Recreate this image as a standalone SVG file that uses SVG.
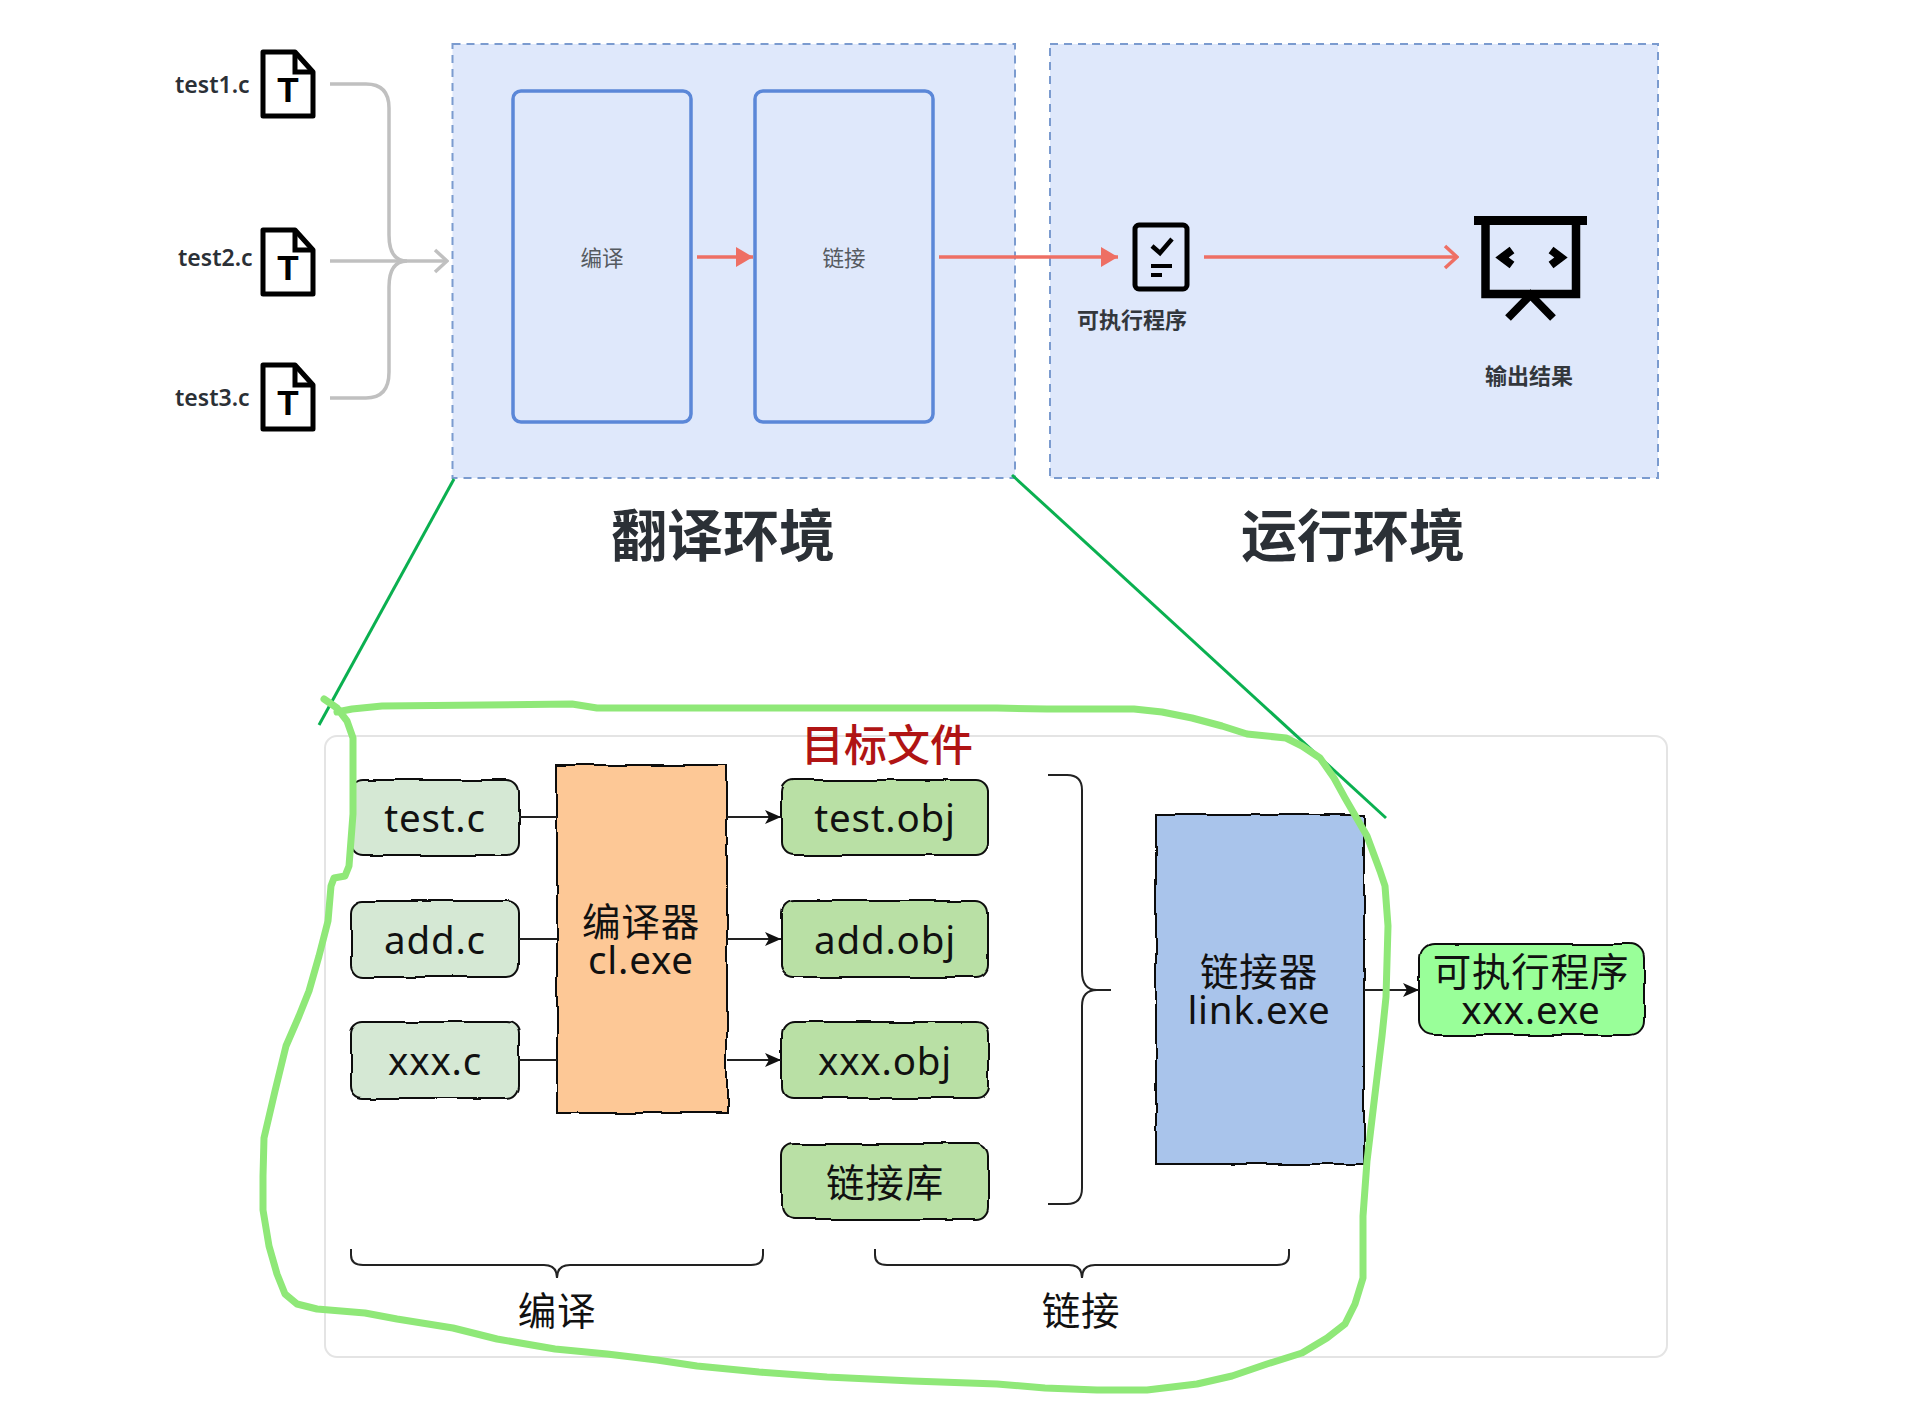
<svg xmlns="http://www.w3.org/2000/svg" width="1910" height="1412" viewBox="0 0 1910 1412">
<style>
text{font-family:"Noto Sans","Noto Sans CJK SC",sans-serif;text-anchor:middle}
.env{fill:#dfe8fb;stroke:#7b9bcf;stroke-width:2;stroke-dasharray:8 6}
.inner{fill:none;stroke:#5b87d8;stroke-width:3.5}
.file{fill:#fff;stroke:#000;stroke-width:5;stroke-linejoin:round}
.fl{font-size:23px;font-weight:600;fill:#2b3036;text-anchor:start}
.small{font-size:21.5px;fill:#555a60}
.bold22{font-size:22px;font-weight:700;fill:#33373c}
.title{font-size:56px;font-weight:700;fill:#2b3036}
.big{font-size:38.5px;fill:#111;letter-spacing:.8px}
.sk{stroke:#111;stroke-width:2;filter:url(#rough)}
.gray{fill:none;stroke:#c0c0c0;stroke-width:3.5}
.red{fill:none;stroke:#ee6f64;stroke-width:3.5}
.blk{fill:none;stroke:#222;stroke-width:2}
.icon{fill:none;stroke:#000}
.t{font-size:35px;font-weight:700;font-family:"Liberation Sans",sans-serif}
</style>
<defs>
<filter id="rough" x="-5%" y="-5%" width="110%" height="110%">
<feTurbulence type="fractalNoise" baseFrequency="0.025" numOctaves="2" seed="4"/>
<feDisplacementMap in="SourceGraphic" scale="5" xChannelSelector="R" yChannelSelector="G"/>
</filter>
<marker id="redTri" markerUnits="userSpaceOnUse" markerWidth="18" markerHeight="20" refX="17" refY="10" orient="auto"><path d="M0 0L17 10L0 20Z" fill="#ee6f64"/></marker>
<marker id="redOpen" markerUnits="userSpaceOnUse" markerWidth="16" markerHeight="26" refX="14" refY="13" orient="auto"><path d="M2 2L14 13L2 24" fill="none" stroke="#ee6f64" stroke-width="3.5"/></marker>
<marker id="grayOpen" markerUnits="userSpaceOnUse" markerWidth="16" markerHeight="26" refX="14" refY="13" orient="auto"><path d="M2 2L14 13L2 24" fill="none" stroke="#c0c0c0" stroke-width="3.5"/></marker>
<marker id="blk" markerUnits="userSpaceOnUse" markerWidth="18" markerHeight="16" refX="16" refY="8" orient="auto"><path d="M0 1L16 8L0 15L4 8Z" fill="#111"/></marker>
<path id="fileShape" d="M2 0H34L52 20V64H2Z"/>
</defs>
<rect width="1910" height="1412" fill="#fff"/>

<g id="env-translate"><rect class="env" x="452.5" y="44" width="562.5" height="434"/><text class="title" x="723" y="556">翻译环境</text></g>
<g id="env-run"><rect class="env" x="1050" y="44" width="608" height="434"/><text class="title" x="1353" y="556">运行环境</text></g>

<g id="file1"><use href="#fileShape" class="file" x="261" y="52"/><path d="M295 53V72H312" fill="none" stroke="#000" stroke-width="5"/><text class="t" x="288" y="102">T</text><text class="fl" x="175" y="93">test1.c</text></g>
<g id="file2"><use href="#fileShape" class="file" x="261" y="230"/><path d="M295 231V250H312" fill="none" stroke="#000" stroke-width="5"/><text class="t" x="288" y="280">T</text><text class="fl" x="178" y="266">test2.c</text></g>
<g id="file3"><use href="#fileShape" class="file" x="261" y="365"/><path d="M295 366V385H312" fill="none" stroke="#000" stroke-width="5"/><text class="t" x="288" y="415">T</text><text class="fl" x="175" y="406">test3.c</text></g>

<g id="compile"><rect class="inner" x="513" y="91" width="178" height="331" rx="8"/><text class="small" x="602" y="266">编译</text></g>
<g id="link"><rect class="inner" x="755" y="91" width="178" height="331" rx="8"/><text class="small" x="844" y="266">链接</text></g>

<g id="exe-icon">
<rect x="1135" y="225" width="52" height="64" rx="4" class="icon" stroke-width="5"/>
<path d="M1152 246L1160 253L1172 239" class="icon" stroke-width="4.5"/>
<path d="M1151 266H1172M1151 275H1162" class="icon" stroke-width="4"/>
<text class="bold22" x="1132" y="328">可执行程序</text>
</g>
<g id="result-icon">
<path d="M1474 220.500H1587" class="icon" stroke-width="9"/>
<path d="M1485.500 222V294H1576V222" class="icon" stroke-width="8.500"/>
<path d="M1512 250L1502 257.500L1512 265M1551 250L1561 257.500L1551 265" class="icon" stroke-width="8"/>
<path d="M1508 318L1530.500 295L1553 318" class="icon" stroke-width="8"/>
<text class="bold22" x="1529" y="384">输出结果</text>
</g>

<g id="panel"><rect x="325" y="736" width="1342" height="621" rx="12" fill="#fff" stroke="#e4e4e4" stroke-width="2"/></g>

<g id="n-test-c"><rect class="sk" fill="#d5e8d4" x="351" y="780" width="168" height="75" rx="12"/><text class="big" x="435" y="832">test.c</text></g>
<g id="n-add-c"><rect class="sk" fill="#d5e8d4" x="351" y="901" width="168" height="76" rx="12"/><text class="big" x="435" y="954">add.c</text></g>
<g id="n-xxx-c"><rect class="sk" fill="#d5e8d4" x="351" y="1022" width="168" height="76" rx="12"/><text class="big" x="435" y="1075">xxx.c</text></g>
<g id="n-cl"><rect class="sk" fill="#fdc896" x="557" y="765" width="170" height="348"/><text class="big" x="641"><tspan x="641" y="936">编译器</tspan><tspan x="641" y="974">cl.exe</tspan></text></g>
<g id="n-test-obj"><rect class="sk" fill="#b9e0a5" x="782" y="780" width="206" height="75" rx="12"/><text class="big" x="885" y="832">test.obj</text></g>
<g id="n-add-obj"><rect class="sk" fill="#b9e0a5" x="782" y="901" width="206" height="76" rx="12"/><text class="big" x="885" y="954">add.obj</text></g>
<g id="n-xxx-obj"><rect class="sk" fill="#b9e0a5" x="782" y="1022" width="206" height="76" rx="12"/><text class="big" x="885" y="1075">xxx.obj</text></g>
<g id="n-lib"><rect class="sk" fill="#b9e0a5" x="782" y="1144" width="206" height="75" rx="12"/><text class="big" x="885" y="1197">链接库</text></g>
<g id="n-link"><rect class="sk" fill="#a9c4eb" x="1156" y="815" width="208" height="349"/><text class="big" x="1259"><tspan x="1259" y="986">链接器</tspan><tspan x="1259" y="1024">link.exe</tspan></text></g>
<g id="n-exe"><rect class="sk" fill="#99ff99" x="1420" y="944" width="224" height="91" rx="14"/><text class="big" x="1531"><tspan x="1531" y="986">可执行程序</tspan><tspan x="1531" y="1024">xxx.exe</tspan></text></g>

<g id="label-target"><text x="887" y="761" font-size="43" font-weight="500" fill="#b01414">目标文件</text></g>
<g id="label-compile"><text class="big" x="557" y="1325">编译</text></g>
<g id="label-link"><text class="big" x="1081" y="1325">链接</text></g>

<g id="connectors">
<path class="gray" d="M330 84H366Q389 84 389 108V235Q389 261 407 261Q389 261 389 287V372Q389 398 366 398H330"/>
<path class="gray" d="M330 261H447" marker-end="url(#grayOpen)"/>
<path class="red" d="M697 257H753" marker-end="url(#redTri)"/>
<path class="red" d="M939 257H1118" marker-end="url(#redTri)"/>
<path class="red" d="M1204 257H1457" marker-end="url(#redOpen)"/>
<path class="blk" d="M519 817H557"/><path class="blk" d="M727 817H781" marker-end="url(#blk)"/>
<path class="blk" d="M519 939H557"/><path class="blk" d="M727 939H781" marker-end="url(#blk)"/>
<path class="blk" d="M519 1060H557"/><path class="blk" d="M727 1060H781" marker-end="url(#blk)"/>
<path class="blk" d="M1364 990H1419" marker-end="url(#blk)"/>
<path class="blk" d="M1048 775H1067Q1082 775 1082 790V971Q1082 990 1097 990H1111M1097 990Q1082 990 1082 1006V1188Q1082 1204 1067 1204H1048"/>
<path class="blk" d="M351 1249V1255Q351 1265 363 1265H544Q557 1265 557 1278Q557 1265 570 1265H751Q763 1265 763 1255V1249"/>
<path class="blk" d="M875 1249V1255Q875 1265 887 1265H1069Q1082 1265 1082 1278Q1082 1265 1095 1265H1277Q1289 1265 1289 1255V1249"/>
<path d="M454 479L319 725" fill="none" stroke="#0ab050" stroke-width="3"/>
<path d="M1012 475L1386 818" fill="none" stroke="#0ab050" stroke-width="3"/>
</g>
<g id="lasso"><path transform="translate(-3 -4)" fill="none" stroke="#8fe878" stroke-width="7" stroke-linejoin="round" stroke-linecap="round" d="M327 703L340 712L350 725L356 742L356 818L352 870L348 880L337 882L334 890L331 925L322 960L312 995L302 1020L289 1050L278 1095L267 1142L266 1180L266 1214L272 1250L280 1278L288 1298L300 1308L320 1313L368 1317L400 1323L456 1332L500 1343L558 1353L610 1358L660 1364L700 1370L762 1376L830 1381L915 1385L1000 1388L1048 1392L1100 1394L1150 1394L1200 1388L1235 1380L1270 1368L1305 1357L1330 1342L1348 1328L1358 1308L1366 1282L1366 1220L1370 1165L1378 1098L1385 1040L1389 1001L1391 930L1388 890L1383 875L1370 840L1348 802L1337 782L1323 762L1305 750L1289 742L1250 738L1225 730L1195 722L1165 716L1137 713L1050 713L1000 712L850 712L600 712L575 708L385 710L355 713L340 716"/></g>
</svg>
